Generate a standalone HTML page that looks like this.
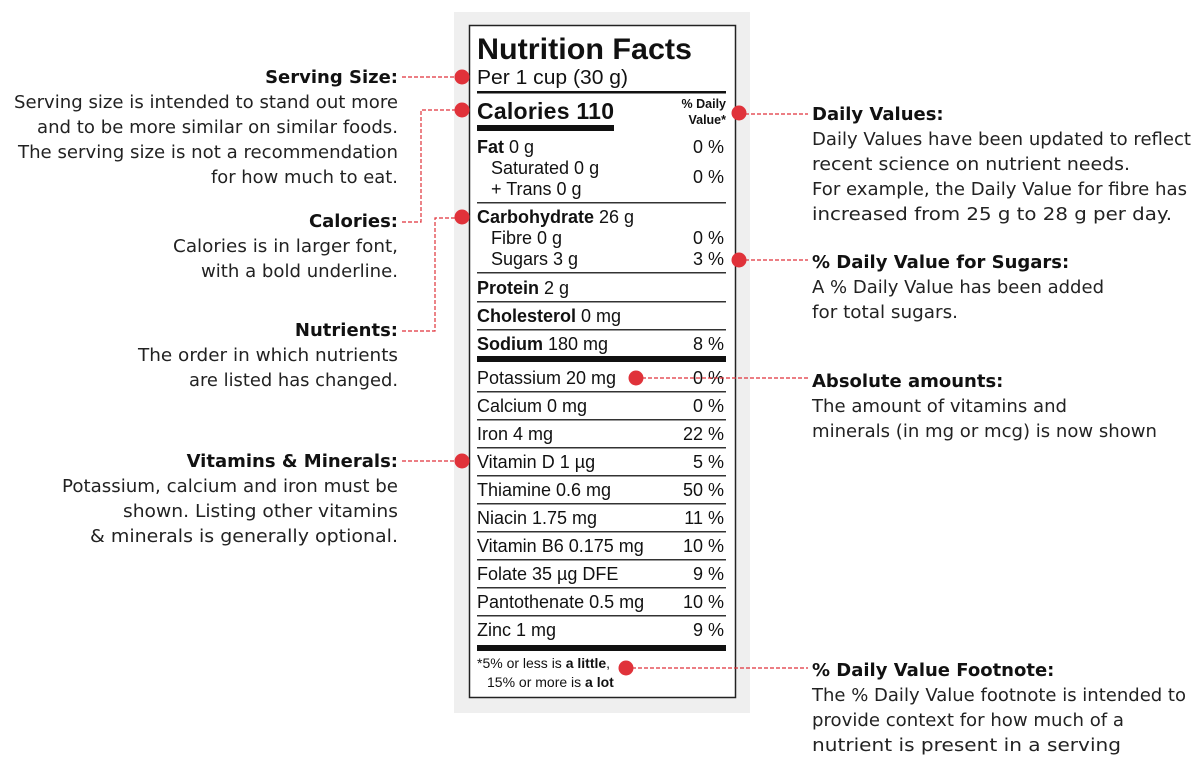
<!DOCTYPE html>
<html><head><meta charset="utf-8"><style>
html,body{margin:0;padding:0;background:#fff;}
svg{display:block}
.a{font-family:"DejaVu Sans","Liberation Sans",sans-serif;font-size:18px;fill:#222}
.ab{font-family:"DejaVu Sans","Liberation Sans",sans-serif;font-size:18px;font-weight:bold;fill:#111}
.n{font-family:"Liberation Sans",Arial,sans-serif;font-size:18px;fill:#111}
.nb{font-weight:bold}
.d{stroke:#e0323a;stroke-width:1.2;stroke-dasharray:4,2;fill:none}
</style></head><body>
<svg width="1200" height="779" viewBox="0 0 1200 779" xmlns="http://www.w3.org/2000/svg">
<rect x="454" y="12" width="296" height="701" fill="#efefef"/>
<rect x="469.5" y="25.5" width="266" height="672" fill="#fff" stroke="#222" stroke-width="1.5"/>
<g class="n">
<text x="477" y="59" font-size="30" font-weight="bold" textLength="215" lengthAdjust="spacingAndGlyphs">Nutrition Facts</text>
<text x="477" y="84" font-size="20" textLength="151" lengthAdjust="spacingAndGlyphs">Per 1 cup (30 g)</text>
<rect x="477" y="91" width="249" height="2.5" fill="#111"/>
<text x="477" y="119" font-size="23" font-weight="bold" textLength="137">Calories 110</text>
<rect x="477" y="125" width="137" height="6" fill="#111"/>
<text x="726" y="108" font-size="12.5" font-weight="bold" text-anchor="end">% Daily</text>
<text x="726" y="124" font-size="12.5" font-weight="bold" text-anchor="end">Value*</text>
<text x="477" y="153"><tspan class="nb">Fat</tspan> 0 g</text><text x="724" y="153" text-anchor="end">0 %</text>
<text x="491" y="174">Saturated 0 g</text>
<text x="491" y="195">+ Trans 0 g</text><text x="724" y="183" text-anchor="end">0 %</text>
<rect x="477" y="202" width="249" height="1.5" fill="#333"/>
<text x="477" y="223"><tspan class="nb">Carbohydrate</tspan> 26 g</text>
<text x="491" y="244">Fibre 0 g</text><text x="724" y="244" text-anchor="end">0 %</text>
<text x="491" y="265">Sugars 3 g</text><text x="724" y="265" text-anchor="end">3 %</text>
<rect x="477" y="272" width="249" height="1.5" fill="#333"/>
<text x="477" y="294"><tspan class="nb">Protein</tspan> 2 g</text>
<rect x="477" y="301" width="249" height="1.5" fill="#333"/>
<text x="477" y="322"><tspan class="nb">Cholesterol</tspan> 0 mg</text>
<rect x="477" y="329" width="249" height="1.5" fill="#333"/>
<text x="477" y="350"><tspan class="nb">Sodium</tspan> 180 mg</text><text x="724" y="350" text-anchor="end">8 %</text>
<rect x="477" y="356" width="249" height="6" fill="#111"/>
<text x="477" y="384">Potassium 20 mg</text><text x="724" y="384" text-anchor="end">0 %</text>
<rect x="477" y="391" width="249" height="1.5" fill="#333"/>
<text x="477" y="412">Calcium 0 mg</text><text x="724" y="412" text-anchor="end">0 %</text>
<rect x="477" y="419" width="249" height="1.5" fill="#333"/>
<text x="477" y="440">Iron 4 mg</text><text x="724" y="440" text-anchor="end">22 %</text>
<rect x="477" y="447" width="249" height="1.5" fill="#333"/>
<text x="477" y="468">Vitamin D 1 µg</text><text x="724" y="468" text-anchor="end">5 %</text>
<rect x="477" y="475" width="249" height="1.5" fill="#333"/>
<text x="477" y="496">Thiamine 0.6 mg</text><text x="724" y="496" text-anchor="end">50 %</text>
<rect x="477" y="503" width="249" height="1.5" fill="#333"/>
<text x="477" y="524">Niacin 1.75 mg</text><text x="724" y="524" text-anchor="end">11 %</text>
<rect x="477" y="531" width="249" height="1.5" fill="#333"/>
<text x="477" y="552">Vitamin B6 0.175 mg</text><text x="724" y="552" text-anchor="end">10 %</text>
<rect x="477" y="559" width="249" height="1.5" fill="#333"/>
<text x="477" y="580">Folate 35 µg DFE</text><text x="724" y="580" text-anchor="end">9 %</text>
<rect x="477" y="587" width="249" height="1.5" fill="#333"/>
<text x="477" y="608">Pantothenate 0.5 mg</text><text x="724" y="608" text-anchor="end">10 %</text>
<rect x="477" y="615" width="249" height="1.5" fill="#333"/>
<text x="477" y="636">Zinc 1 mg</text><text x="724" y="636" text-anchor="end">9 %</text>
<rect x="477" y="645" width="249" height="6" fill="#111"/>
<text x="477" y="668" font-size="14">*5% or less is <tspan class="nb">a little</tspan>,</text>
<text x="487" y="687" font-size="14">15% or more is <tspan class="nb">a lot</tspan></text>
</g>
<path class="d" d="M402 77H455"/>
<path class="d" d="M402 222H421V110H455"/>
<path class="d" d="M402 331H435V218H455"/>
<path class="d" d="M402 461H455"/>
<path class="d" d="M745 114H808"/>
<path class="d" d="M745 260H808"/>
<path class="d" d="M642 378H808"/>
<path class="d" d="M632 668H808"/>
<g fill="#e0323a">
<circle cx="462" cy="77" r="7.5"/><circle cx="462" cy="110" r="7.5"/><circle cx="462" cy="217" r="7.5"/><circle cx="462" cy="461" r="7.5"/>
<circle cx="739" cy="113" r="7.5"/><circle cx="739" cy="260" r="7.5"/><circle cx="636" cy="378" r="7.5"/><circle cx="626" cy="668" r="7.5"/>
</g>
<g text-anchor="end">
<text class="ab" x="398" y="83">Serving Size:</text>
<text class="a" x="398" y="108" textLength="384" lengthAdjust="spacingAndGlyphs">Serving size is intended to stand out more</text>
<text class="a" x="398" y="133" textLength="361" lengthAdjust="spacingAndGlyphs">and to be more similar on similar foods.</text>
<text class="a" x="398" y="158" textLength="380" lengthAdjust="spacingAndGlyphs">The serving size is not a recommendation</text>
<text class="a" x="398" y="183" textLength="187" lengthAdjust="spacingAndGlyphs">for how much to eat.</text>
<text class="ab" x="398" y="227">Calories:</text>
<text class="a" x="398" y="252" textLength="225" lengthAdjust="spacingAndGlyphs">Calories is in larger font,</text>
<text class="a" x="398" y="277" textLength="197" lengthAdjust="spacingAndGlyphs">with a bold underline.</text>
<text class="ab" x="398" y="336">Nutrients:</text>
<text class="a" x="398" y="361" textLength="260" lengthAdjust="spacingAndGlyphs">The order in which nutrients</text>
<text class="a" x="398" y="386" textLength="209" lengthAdjust="spacingAndGlyphs">are listed has changed.</text>
<text class="ab" x="398" y="467">Vitamins &amp; Minerals:</text>
<text class="a" x="398" y="492" textLength="336" lengthAdjust="spacingAndGlyphs">Potassium, calcium and iron must be</text>
<text class="a" x="398" y="517" textLength="275" lengthAdjust="spacingAndGlyphs">shown.  Listing other vitamins</text>
<text class="a" x="398" y="542" textLength="308" lengthAdjust="spacingAndGlyphs">&amp; minerals is generally optional.</text>
</g>
<g>
<text class="ab" x="812" y="120">Daily Values:</text>
<text class="a" x="812" y="145" textLength="379" lengthAdjust="spacingAndGlyphs">Daily Values have been updated to reflect</text>
<text class="a" x="812" y="170" textLength="318" lengthAdjust="spacingAndGlyphs">recent science on nutrient needs.</text>
<text class="a" x="812" y="195" textLength="375" lengthAdjust="spacingAndGlyphs">For example, the Daily Value for fibre has</text>
<text class="a" x="812" y="220" textLength="360" lengthAdjust="spacingAndGlyphs">increased from 25 g to 28 g per day.</text>
<text class="ab" x="812" y="268">% Daily Value for Sugars:</text>
<text class="a" x="812" y="293" textLength="292" lengthAdjust="spacingAndGlyphs">A % Daily Value has been added</text>
<text class="a" x="812" y="318" textLength="146" lengthAdjust="spacingAndGlyphs">for total sugars.</text>
<text class="ab" x="812" y="387">Absolute amounts:</text>
<text class="a" x="812" y="412" textLength="255" lengthAdjust="spacingAndGlyphs">The amount of vitamins and</text>
<text class="a" x="812" y="437" textLength="345" lengthAdjust="spacingAndGlyphs">minerals (in mg or mcg) is now shown</text>
<text class="ab" x="812" y="676">% Daily Value Footnote:</text>
<text class="a" x="812" y="701" textLength="374" lengthAdjust="spacingAndGlyphs">The % Daily Value footnote is intended to</text>
<text class="a" x="812" y="726" textLength="312" lengthAdjust="spacingAndGlyphs">provide context for how much of a</text>
<text class="a" x="812" y="751" textLength="309" lengthAdjust="spacingAndGlyphs">nutrient is present in a serving</text>
</g>
</svg>
</body></html>
